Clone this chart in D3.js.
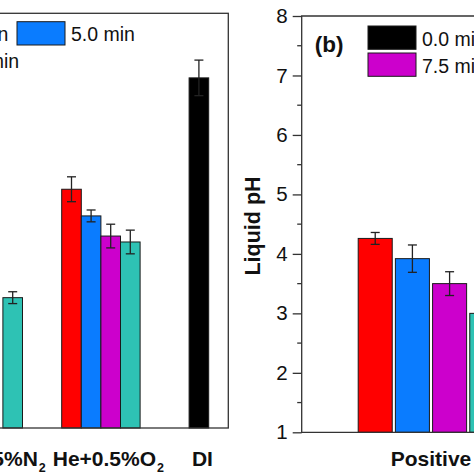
<!DOCTYPE html>
<html>
<head>
<meta charset="utf-8">
<script src="https://cdn.jsdelivr.net/npm/d3@7"></script>
<style>
  body { margin: 0; background: #fff; }
  svg { display: block; font-family: Arial, "Liberation Sans", sans-serif; }
</style>
</head>
<body>
<script>
// treatment times (legend), shared by both panels
var times = ["0.0 min", "2.5 min", "5.0 min", "7.5 min", "10.0 min"];
var gasTimes = ["2.5 min", "5.0 min", "7.5 min", "10.0 min"];

// panel (a): groups, visible part only
var leftCats = ["He+0.5%N2", "He+0.5%O2", "DI"];
var leftTimes = [gasTimes, gasTimes, ["0.0 min"]];
var leftPH = [[null, null, null, 3.20], [5.03, 4.58, 4.24, 4.14], [6.91]];
var leftErr = [[null, null, null, 0.10], [0.21, 0.10, 0.20, 0.20], [0.30]];

// panel (b)
var rightCats = ["Positive"];
var rightPH = [[4.26, 3.92, 3.50, 3.00]];
var rightErr = [[0.10, 0.23, 0.20, null]];

var yTicks = [1, 2, 3, 4, 5, 6, 7, 8];

var W = 474, H = 474;
var svg = d3.select("body").append("svg")
    .attr("width", W)
    .attr("height", H);

var color = d3.scaleOrdinal()
    .domain(times)
    .range(["#000000", "#ff0000", "#0a7cff", "#cc00cc", "#2ec2b4"]);

var frameColor = "#333";
var labelShift = 3.5;   // Origin puts the category text a bit right of the group centre

//---------------- panel (a) ----------------
var la = {top: 13.3, bottom: 428, right: 228.3};
var slotW = 19.6;

// lay out bar slots: 2 empty slots between gas groups, 2.5 before the DI control
var slots = [], centres = [], cursor = 0;
leftCats.forEach(function (c, i) {
    leftTimes[i].forEach(function (t, j) {
        slots.push({cat: c, time: t, s: cursor + j, v: leftPH[i][j], e: leftErr[i][j]});
    });
    var n = leftTimes[i].length;
    centres.push(cursor + n / 2);
    cursor += n + (i + 2 === leftCats.length ? 2.5 : 2);
});
cursor -= 1;   // trailing space after the last bar is 1.5 slots

var xL = d3.scaleLinear()
    .domain([0, cursor])
    .range([la.right - cursor * slotW, la.right]);

var yL = d3.scaleLinear()
    .domain([1, 8])
    .range([la.bottom, la.top]);

var gA = svg.append("g");

var barsA = slots.filter(function (d) { return d.v !== null; });

gA.selectAll("rect.bar")
    .data(barsA)
    .enter().append("rect")
    .attr("class", "bar")
    .attr("x", function (d) { return xL(d.s); })
    .attr("width", xL(1) - xL(0))
    .attr("y", function (d) { return yL(d.v); })
    .attr("height", function (d) { return yL(1) - yL(d.v); })
    .attr("fill", function (d) { return color(d.time); })
    .attr("stroke", "#1a1a1a")
    .attr("stroke-width", 1);

drawErr(gA, barsA.filter(function (d) { return d.e !== null; }),
    function (d) { return xL(d.s + 0.5); }, yL);

// frame
gA.append("rect")
    .attr("x", xL(0) - 60)
    .attr("y", la.top)
    .attr("width", la.right - xL(0) + 60)
    .attr("height", la.bottom - la.top)
    .attr("fill", "none")
    .attr("stroke", frameColor)
    .attr("stroke-width", 1.3);

leftCats.forEach(function (c, i) {
    catLabel(gA, c, xL(centres[i]) + labelShift, 466);
});

legend(gA, -236.2, 21.7);

//---------------- panel (b) ----------------
var lb = {top: 16, bottom: 432.3, left: 301.7, right: 800};

var yR = d3.scaleLinear()
    .domain([1, 8])
    .range([lb.bottom, lb.top]);

var x0 = d3.scaleBand()
    .domain(rightCats)
    .range([lb.left, 560.3]);

var groupW = 145.6;
var x1 = d3.scaleBand()
    .domain(gasTimes)
    .range([0, groupW])
    .paddingInner(0.085)
    .paddingOuter(0);

var groupOff = (x0.bandwidth() - groupW) / 2;

var barsB = [];
rightCats.forEach(function (c, i) {
    gasTimes.forEach(function (t, j) {
        barsB.push({cat: c, time: t, v: rightPH[i][j], e: rightErr[i][j]});
    });
});

var gB = svg.append("g");

gB.selectAll("rect.bar")
    .data(barsB)
    .enter().append("rect")
    .attr("class", "bar")
    .attr("x", function (d) { return x0(d.cat) + groupOff + x1(d.time); })
    .attr("width", x1.bandwidth())
    .attr("y", function (d) { return yR(d.v); })
    .attr("height", function (d) { return yR(1) - yR(d.v); })
    .attr("fill", function (d) { return color(d.time); })
    .attr("stroke", "#1a1a1a")
    .attr("stroke-width", 1);

drawErr(gB, barsB.filter(function (d) { return d.e !== null; }),
    function (d) { return x0(d.cat) + groupOff + x1(d.time) + x1.bandwidth() / 2; }, yR);

// axes lines (left, bottom, top)
gB.append("path")
    .attr("d", "M" + lb.right + "," + lb.top + "H" + lb.left + "V" + lb.bottom + "H" + lb.right)
    .attr("fill", "none")
    .attr("stroke", frameColor)
    .attr("stroke-width", 1.3);

var yAxis = d3.axisLeft(yR)
    .tickValues(yTicks)
    .tickSize(9)
    .tickPadding(5)
    .tickFormat(d3.format("d"));

var ax = gB.append("g")
    .attr("transform", "translate(" + lb.left + ",0)")
    .call(yAxis);
ax.select(".domain").remove();
ax.selectAll("line").attr("stroke", frameColor).attr("stroke-width", 1.3);
ax.selectAll("text")
    .attr("fill", "#111")
    .style("font-family", "Arial, 'Liberation Sans', sans-serif")
    .style("font-size", "20.5px");

// minor ticks
gB.selectAll("line.minor")
    .data(d3.range(1.5, 8, 1))
    .enter().append("line")
    .attr("class", "minor")
    .attr("x1", lb.left - 4.5)
    .attr("x2", lb.left)
    .attr("y1", function (d) { return yR(d); })
    .attr("y2", function (d) { return yR(d); })
    .attr("stroke", frameColor)
    .attr("stroke-width", 1.3);

gB.append("text")
    .attr("transform", "translate(259.5,226) rotate(-90)")
    .attr("text-anchor", "middle")
    .style("font-size", "21.5px")
    .style("font-weight", "bold")
    .attr("fill", "#111")
    .text("Liquid pH");

gB.append("text")
    .attr("x", 314.7)
    .attr("y", 52)
    .style("font-size", "22.5px")
    .style("font-weight", "bold")
    .attr("fill", "#111")
    .text("(b)");

rightCats.forEach(function (c) {
    catLabel(gB, c, x0(c) + x0.bandwidth() / 2, 466);
});

legend(gB, 368, 26);

//---------------- helpers ----------------
function drawErr(g, data, cx, y) {
    var e = g.selectAll("g.err")
        .data(data)
        .enter().append("g")
        .attr("class", "err")
        .attr("stroke", "#222")
        .attr("stroke-width", 1.3);
    e.append("line")
        .attr("x1", cx).attr("x2", cx)
        .attr("y1", function (d) { return y(d.v + d.e); })
        .attr("y2", function (d) { return y(d.v - d.e); });
    e.append("line")
        .attr("x1", function (d) { return cx(d) - 4.5; })
        .attr("x2", function (d) { return cx(d) + 4.5; })
        .attr("y1", function (d) { return y(d.v + d.e); })
        .attr("y2", function (d) { return y(d.v + d.e); });
    e.append("line")
        .attr("x1", function (d) { return cx(d) - 4.5; })
        .attr("x2", function (d) { return cx(d) + 4.5; })
        .attr("y1", function (d) { return y(d.v - d.e); })
        .attr("y2", function (d) { return y(d.v - d.e); });
}

// label with trailing "2" as subscript; the main part is centred, the subscript hangs after it
function catLabel(g, name, cx, base) {
    var sub = /[A-Z]2$/.test(name);
    var main = sub ? name.slice(0, -1) : name;
    var t = g.append("text")
        .attr("x", cx)
        .attr("y", base)
        .attr("text-anchor", "middle")
        .style("font-size", "21px")
        .style("font-weight", "bold")
        .attr("fill", "#111")
        .text(main);
    if (sub) {
        var bb = t.node().getBBox();
        g.append("text")
            .attr("x", bb.x + bb.width + 1)
            .attr("y", base + 6)
            .style("font-size", "12.5px")
            .style("font-weight", "bold")
            .attr("fill", "#111")
            .text("2");
    }
}

function legend(g, x, y) {
    var colStride = 126.6, rowH = 27;
    var it = g.selectAll("g.leg")
        .data(times)
        .enter().append("g")
        .attr("class", "leg")
        .attr("transform", function (d, i) {
            return "translate(" + (x + (i % 3) * colStride) + "," + (y + Math.floor(i / 3) * rowH) + ")";
        });
    it.append("rect")
        .attr("width", 48)
        .attr("height", 23.3)
        .attr("fill", function (d) { return color(d); })
        .attr("stroke", "#1a1a1a")
        .attr("stroke-width", 1);
    it.append("text")
        .attr("x", 54)
        .attr("y", 19.5)
        .style("font-size", "19.5px")
        .attr("fill", "#111")
        .text(function (d) { return d; });
}
</script>
</body>
</html>
